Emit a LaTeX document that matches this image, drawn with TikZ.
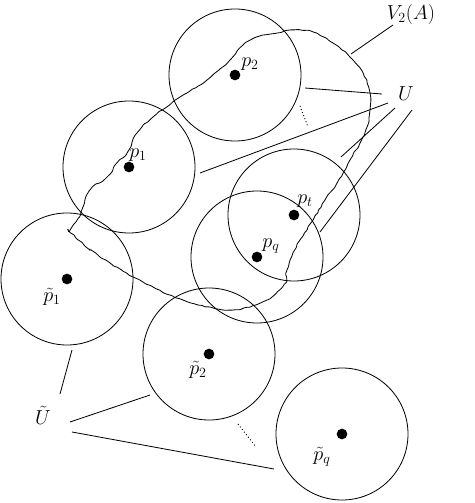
\documentclass[tikz,border=0pt]{standalone}
\usepackage{amsmath}
\usetikzlibrary{positioning,decorations.pathmorphing}

\begin{document}
\begin{tikzpicture}[x=0.03cm,y=-0.03cm,line width=0.7pt]
\tikzstyle{site} = [circle, fill=black, inner sep=0, minimum size=0.32cm]
\tikzstyle{lbl} = [font=\LARGE, inner sep=1pt]
\tikzstyle{ball} = [line width=0.7pt]
\tikzstyle{wavy} = [decorate, decoration={random steps, segment length=3pt, amplitude=0.6pt}, rounded corners=0.8pt]
\tikzstyle{link} = [line width=0.7pt]
\tikzstyle{gap} = [dotted, line width=0.8pt]

\useasboundingbox (0,0) rectangle (474,503);

% centres of the balls
\node (p1) [site] at (129,167) {};
\node (p2) [site] at (235,75) {};
\node (pt) [site] at (294,215) {};
\node (pq) [site] at (257,257) {};
\node (r1) [site] at (67,279) {};
\node (r2) [site] at (209,354) {};
\node (rq) [site] at (342,434) {};

\foreach \c in {p1,p2,pt,pq,r1,r2,rq}
{
\draw [ball] (\c) circle [radius=66];
}

% labels
\node (lp1) [lbl] at (138,155) {$p_1$};
\node (lp2) [lbl] at (250,64) {$p_2$};
\node (lpt) [lbl] at (305,201) {$p_t$};
\node (lpq) [lbl] at (271,246) {$p_q$};
\node (lr1) [lbl] at (52,297) {$\tilde{p}_1$};
\node (lr2) [lbl] at (198,370) {$\tilde{p}_2$};
\node (lrq) [lbl] at (322,457) {$\tilde{p}_q$};
\node (V) [lbl] at (411,14) {$V_2(A)$};
\node (U) [lbl] at (406,94) {$U$};
\node (Ut) [lbl] at (43,415) {$\tilde{U}$};

% the set V_2(A)
\draw [wavy] plot [smooth, tension=0.6] coordinates {
(68,230) (77,220) (83,207) (90,190) (107,177) (117,163) (127,153) (137,133)
(153,117) (180,97) (207,80) (230,60) (242,46) (257,37) (277,33) (293,30)
(313,32) (333,43) (350,57) (363,73) (370,93) (370,110) (367,127) (360,143)
(350,160) (337,183) (325,200) (313,220) (300,240) (292,256) (287,270)
(285,283) (267,300) (230,310) (183,300) (133,277) (90,250)} -- cycle;

% connectors
\coordinate (v1) at (351,54);
\coordinate (v0) at (393,25);
\draw [link] (v0) -- (v1);

\coordinate (u0) at (382,94);
\coordinate (u1) at (388,103);
\coordinate (u2) at (395,108);
\coordinate (u3) at (412,110);
\coordinate (a2) at (305,88);
\coordinate (a1) at (200,173);
\coordinate (at) at (341,157);
\coordinate (aq) at (320,232);
\draw [link] (u0) -- (a2);
\draw [link] (u1) -- (a1);
\draw [link] (u2) -- (at);
\draw [link] (u3) -- (aq);
\coordinate (d0) at (300,106);
\coordinate (d1) at (308,127);
\draw [gap] (d0) -- (d1);

\coordinate (w0) at (60,394);
\coordinate (w1) at (70,422);
\coordinate (w2) at (72,432);
\coordinate (b1) at (72,350);
\coordinate (b2) at (150,395);
\coordinate (bq) at (274,469);
\draw [link] (w0) -- (b1);
\draw [link] (w1) -- (b2);
\draw [link] (w2) -- (bq);
\coordinate (e0) at (238,424);
\coordinate (e1) at (256,447);
\draw [gap] (e0) -- (e1);

\end{tikzpicture}
\end{document}
